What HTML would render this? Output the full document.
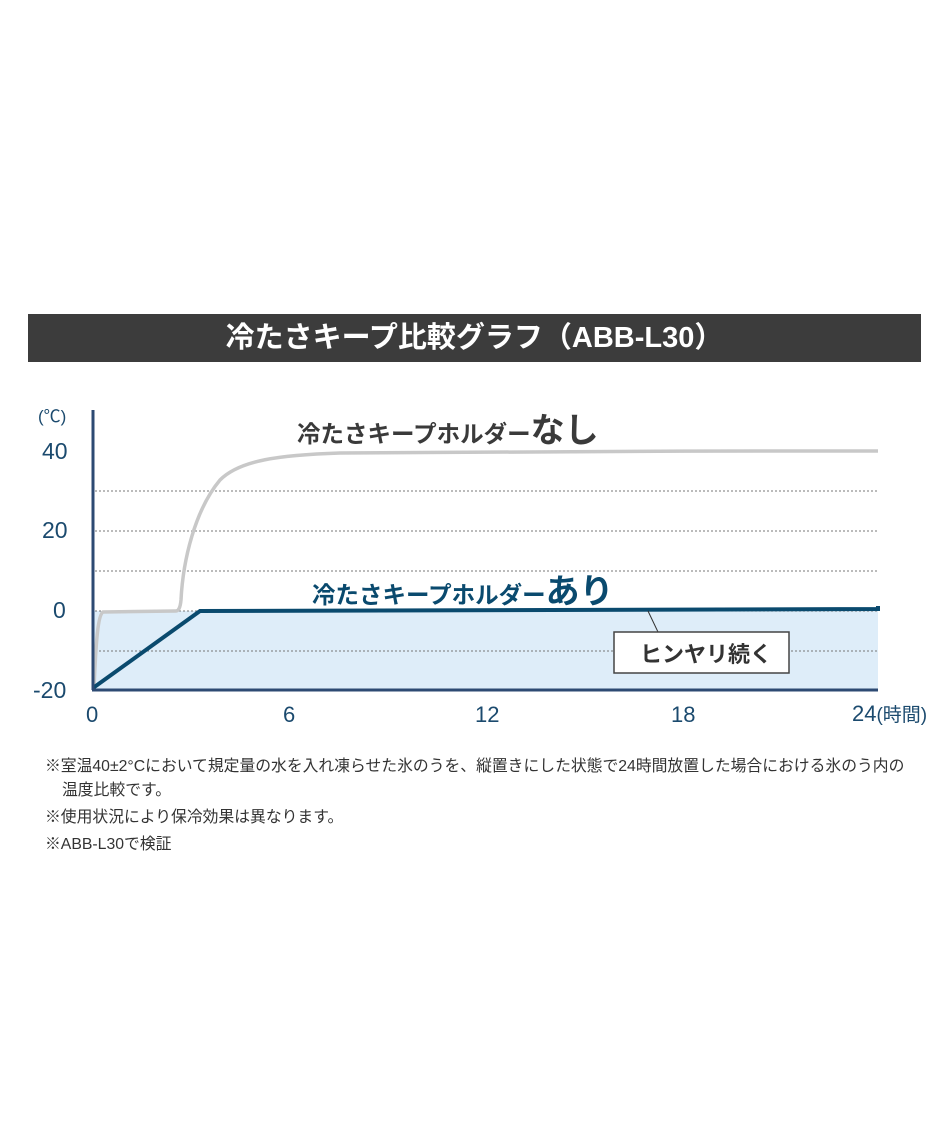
<!DOCTYPE html>
<html><head><meta charset="utf-8"><style>
body{margin:0;width:950px;height:1140px;background:#fff;position:relative;overflow:hidden;font-family:"Liberation Sans","Noto Sans CJK JP",sans-serif}
.t{position:absolute;white-space:nowrap}
.note{position:absolute;left:45px;font-size:15.8px;color:#333;white-space:nowrap}
</style></head><body>
<div class="t" style="left:28px;top:314px;width:893px;height:48px;background:#3c3c3c;color:#fff;font-size:29px;font-weight:bold;text-align:center;line-height:48px">冷たさキープ比較グラフ（ABB-L30）</div>
<svg width="950" height="1140" style="position:absolute;left:0;top:0">
<rect x="93" y="611" width="785" height="79" fill="#deedf9"/>
<g stroke="#777" stroke-width="1" stroke-dasharray="2,2">
<line x1="95" y1="491" x2="878" y2="491"/><line x1="95" y1="531" x2="878" y2="531"/><line x1="95" y1="571" x2="878" y2="571"/><line x1="95" y1="611" x2="878" y2="611"/><line x1="95" y1="651" x2="878" y2="651"/>
</g>
<path d="M94,688 C96,640 98,615 103,612 L176,611 Q180,611 181,600 C183,560 195,510 220,480 C240,460 280,455 340,453 C500,451 700,451 878,451" fill="none" stroke="#c8c8c8" stroke-width="3.5"/>
<path d="M93,688 L200,611 L878,609 L878,606" fill="none" stroke="#0a4a6e" stroke-width="4"/>
<line x1="93" y1="410" x2="93" y2="690" stroke="#2d4a73" stroke-width="3"/>
<line x1="92" y1="690" x2="878" y2="690" stroke="#2d4a73" stroke-width="3"/>
<line x1="648" y1="611" x2="658" y2="632" stroke="#333" stroke-width="1"/>
<rect x="614" y="632" width="175" height="41" fill="#fff" stroke="#444" stroke-width="1.5"/>
</svg>
<div class="t" style="left:640px;top:637px;font-size:22px;font-weight:bold;color:#333">ヒンヤリ続く</div>
<div class="t" style="left:38px;top:402px;font-size:17px;color:#1b4a6e">(℃)</div>
<div class="t" style="left:42px;top:438px;font-size:23px;color:#1b4a6e">40</div>
<div class="t" style="left:42px;top:517px;font-size:23px;color:#1b4a6e">20</div>
<div class="t" style="left:53px;top:597px;font-size:23px;color:#1b4a6e">0</div>
<div class="t" style="left:33px;top:677px;font-size:23px;color:#1b4a6e">-20</div>
<div class="t" style="left:86px;top:702px;font-size:22px;color:#1b4a6e">0</div>
<div class="t" style="left:283px;top:702px;font-size:22px;color:#1b4a6e">6</div>
<div class="t" style="left:475px;top:702px;font-size:22px;color:#1b4a6e">12</div>
<div class="t" style="left:671px;top:702px;font-size:22px;color:#1b4a6e">18</div>
<div class="t" style="left:852px;top:700px;font-size:22px;color:#1b4a6e">24<span style="font-size:19px">(時間)</span></div>
<div class="t" style="left:297px;top:403px;font-size:23.5px;font-weight:bold;color:#3a3a3a">冷たさキープホルダー<span style="font-size:34px">なし</span></div>
<div class="t" style="left:312px;top:564px;font-size:23.5px;font-weight:bold;color:#0a4a6e">冷たさキープホルダー<span style="font-size:34px">あり</span></div>
<div class="note" style="top:753px">※室温40±2°Cにおいて規定量の水を入れ凍らせた氷のうを、縦置きにした状態で24時間放置した場合における氷のう内の</div>
<div class="note" style="top:777px;left:62px">温度比較です。</div>
<div class="note" style="top:804px">※使用状況により保冷効果は異なります。</div>
<div class="note" style="top:831px">※ABB-L30で検証</div>
</body></html>
